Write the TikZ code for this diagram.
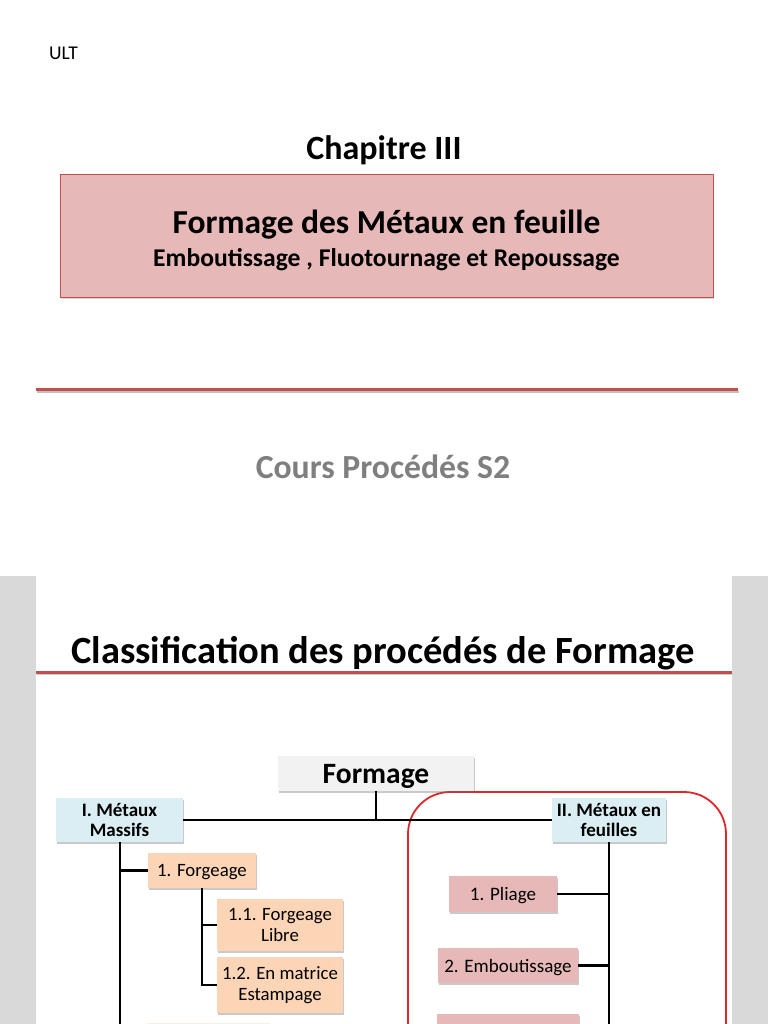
\documentclass[tikz,border=0pt]{standalone}
\usepackage{fontspec}
\setmainfont{Carlito}
\usetikzlibrary{shadows}
\definecolor{pinkfill}{HTML}{E6B8B7}
\definecolor{pinkdraw}{HTML}{C0504D}
\definecolor{bluefill}{HTML}{DAEEF3}
\definecolor{peachfill}{HTML}{FBD5B5}
\definecolor{grayfill}{HTML}{F2F2F2}
\definecolor{sidegray}{HTML}{D9D9D9}
\definecolor{ruleRed}{HTML}{C0504D}
\definecolor{frameRed}{HTML}{E0262B}
\definecolor{subgray}{HTML}{7F7F7F}
\tikzset{
  boxshadow/.style={drop shadow={shadow xshift=1pt,shadow yshift=-1.5pt,opacity=0.35,fill=black!60}},
  catbox/.style={rectangle,inner sep=1pt,align=center,boxshadow,font=\fontsize{19}{20}\selectfont\bfseries,fill=bluefill},
  peachbox/.style={rectangle,inner sep=1pt,align=center,boxshadow,font=\fontsize{18.8}{20.5}\selectfont,fill=peachfill},
  pinkbox/.style={rectangle,inner sep=1pt,align=center,boxshadow,font=\fontsize{19}{20}\selectfont,fill=pinkfill},
  oneline/.style={text depth=0pt},
  link/.style={draw=black,line width=1.3pt},
  thicklink/.style={draw=black,line width=2.4pt},
}
\begin{document}
\begin{tikzpicture}[x=1pt,y=-1pt]
\useasboundingbox (0,0) rectangle (768,1024);
\begin{scope}
\clip (0,0) rectangle (768,1024);
% ---------- slide 1 ----------
\fill[white] (0,0) rectangle (768,576);
\node[anchor=west,font=\fontsize{19.5}{22}\selectfont,inner sep=0pt] (ult) at (49,53) {ULT};
\node[font=\fontsize{34}{38}\selectfont\bfseries] (chap) at (384,150) {Chapitre III};
\node[rectangle,draw=pinkdraw,line width=0.8pt,fill=pinkfill,minimum width=653pt,minimum height=123pt,
      drop shadow={shadow xshift=1pt,shadow yshift=-2pt,opacity=0.3},inner sep=0pt] (titlebox) at (386.5,235.5) {};
\node[font=\fontsize{33.5}{38}\selectfont\bfseries] (t1) at (386.5,224.5) {Formage des Métaux en feuille};
\node[font=\fontsize{25.6}{28}\selectfont\bfseries] (t2) at (386.5,260) {Emboutissage , Fluotournage et Repoussage};
\fill[black!25] (37,391) rectangle (739,393);
\fill[ruleRed] (36,388) rectangle (738,391);
\node[font=\fontsize{33.7}{38}\selectfont\bfseries,text=subgray] (cours) at (383,467) {Cours Procédés S2};
% ---------- slide 2 ----------
\fill[sidegray] (0,576) rectangle (36,1024);
\fill[sidegray] (732,576) rectangle (768,1024);
\fill[white] (36,576) rectangle (732,1024);
\node[font=\fontsize{38.5}{44}\selectfont\bfseries] (ctitle) at (383,653.5) {Classification des procédés de Formage};
\fill[black!20] (37,673) rectangle (732,675);
\fill[ruleRed] (36,671) rectangle (732,673.5);
% red frame
\draw[frameRed,line width=1.8pt,rounded corners=42pt] (408,792) rectangle (726,1120);
% nodes
\node[rectangle,fill=grayfill,boxshadow,oneline,minimum width=196pt,minimum height=35pt,inner sep=0pt,
      font=\fontsize{29.5}{32}\selectfont\bfseries] (formage) at (376,773.5) {Formage};
\node[catbox,minimum width=127pt,minimum height=44pt] (massifs) at (119.5,820) {I. Métaux\\Massifs};
\node[catbox,minimum width=114pt,minimum height=44pt] (feuilles) at (609,820) {II. Métaux en\\feuilles};
\node[peachbox,oneline,minimum width=108pt,minimum height=35pt] (forgeage) at (202,870.5) {1. Forgeage};
\node[peachbox,minimum width=126pt,minimum height=52pt] (libre) at (280,925) {1.1. Forgeage\\Libre};
\node[peachbox,minimum width=126pt,minimum height=56pt] (matrice) at (280,985) {1.2. En matrice\\Estampage};
\node[pinkbox,oneline,minimum width=108pt,minimum height=36pt] (pliage) at (503,894) {1. Pliage};
\node[pinkbox,oneline,minimum width=140pt,minimum height=35pt] (embout) at (508,965.5) {2. Emboutissage};
\node[pinkbox,minimum width=142pt,minimum height=36pt] (third) at (508,1032) {};
\node[peachbox,fill=peachfill!40,minimum width=123pt,minimum height=36pt] (second) at (208.5,1041) {};
% connectors
\coordinate (jtop) at (376,819);
\coordinate (lbot) at (120,1030);
\coordinate (rbot) at (609,1030);
\draw[link] (formage.south) -- (jtop);
\draw[link] (massifs.east) -- (feuilles.west);
\draw[link] (massifs.south -| lbot) -- (lbot);
\draw[thicklink] (forgeage.west -| lbot) -- (forgeage.west);
\draw[link] (forgeage.south) |- (matrice.west);
\draw[link] (forgeage.south |- libre.west) -- (libre.west);
\draw[link] (feuilles.south) -- (rbot);
\draw[link] (pliage.east) -- (pliage.east -| rbot);
\draw[thicklink] (embout.east) -- (embout.east -| rbot);
\end{scope}
\end{tikzpicture}
\end{document}
